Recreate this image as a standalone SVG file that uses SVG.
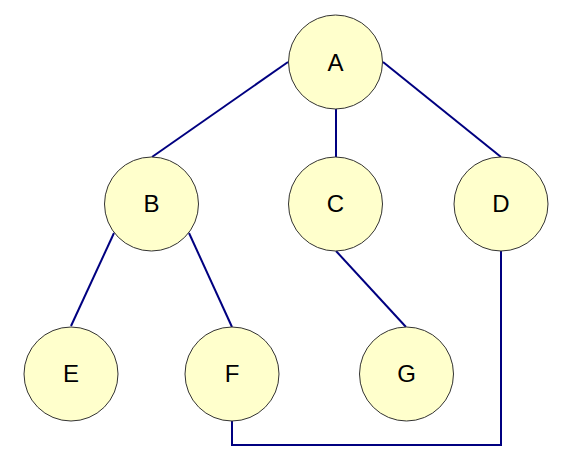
<svg xmlns="http://www.w3.org/2000/svg" width="567" height="472" viewBox="0 0 567 472">
<style>
.n circle{fill:#FFFFCC;stroke:#333333;stroke-width:1}
.n text{font-family:"Liberation Sans",Arial,sans-serif;font-size:24px;fill:#000;text-anchor:middle;dominant-baseline:central}
#edges path{fill:none;stroke:#000080;stroke-width:2}
</style>
<rect width="567" height="472" fill="#fff"/>
<g id="edges">
<path d="M288,62 L152,157"/>
<path d="M336,109 L336,157"/>
<path d="M383,62 L501,157"/>
<path d="M114,233 L71,326"/>
<path d="M189,233 L232,327"/>
<path d="M336,251 L406,327"/>
<path d="M501,251 L501,445 L232,445 L232,421"/>
</g>
<g id="A" class="n"><circle cx="335.5" cy="62" r="47"/><text x="335.5" y="62">A</text></g>
<g id="B" class="n"><circle cx="151.5" cy="204" r="47"/><text x="151.5" y="203">B</text></g>
<g id="C" class="n"><circle cx="335.5" cy="204" r="47"/><text x="335.5" y="203">C</text></g>
<g id="D" class="n"><circle cx="501" cy="204" r="47"/><text x="501" y="203">D</text></g>
<g id="E" class="n"><circle cx="71" cy="374" r="47"/><text x="71" y="373">E</text></g>
<g id="F" class="n"><circle cx="232" cy="374" r="47"/><text x="232" y="373">F</text></g>
<g id="G" class="n"><circle cx="406.5" cy="374" r="47"/><text x="406.5" y="373">G</text></g>
</svg>
